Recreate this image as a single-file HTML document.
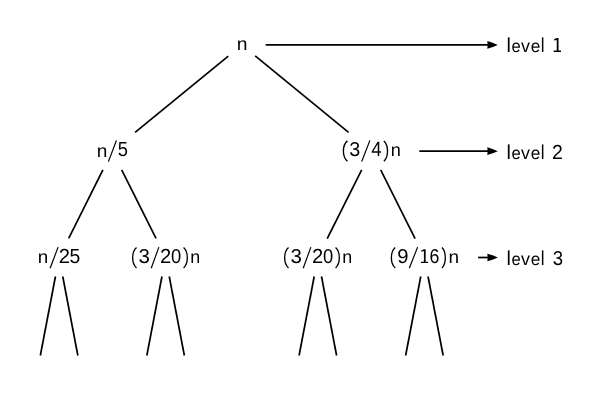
<!DOCTYPE html>
<html><head><meta charset="utf-8">
<style>
html,body{margin:0;padding:0;background:#fff;width:600px;height:416px;overflow:hidden;font-family:"Liberation Sans",sans-serif}
svg{display:block}
</style></head><body>
<svg width="600" height="416" viewBox="0 0 600 416">
<g stroke="#000" stroke-width="1.7" fill="none"><line x1="228.3" y1="56.1" x2="135.1" y2="132.4"/><line x1="255.2" y1="55.9" x2="348.6" y2="132.4"/><line x1="102.9" y1="169.8" x2="68.7" y2="238.3"/><line x1="121.7" y1="169.8" x2="156" y2="238.3"/><line x1="361.7" y1="169.8" x2="327.2" y2="238.6"/><line x1="380.7" y1="169.8" x2="415.1" y2="238.6"/><line x1="55.45" y1="276.5" x2="40.35" y2="355.5"/><line x1="62.75" y1="276.5" x2="77.85" y2="355.5"/><line x1="161.95" y1="276.5" x2="146.85" y2="355.5"/><line x1="169.25" y1="276.5" x2="184.35" y2="355.5"/><line x1="314.2" y1="276.5" x2="299.1" y2="355.5"/><line x1="321.5" y1="276.5" x2="336.6" y2="355.5"/><line x1="420.75" y1="276.5" x2="405.65" y2="355.5"/><line x1="428.05" y1="276.5" x2="443.15" y2="355.5"/><line x1="265.7" y1="44.9" x2="490" y2="44.9"/><line x1="419.3" y1="151.2" x2="490" y2="151.2"/><line x1="478.1" y1="257.5" x2="490" y2="257.5"/></g>
<g fill="#000"><path d="M497.8 44.9Q492.55 42.48 487.3 41.05Q487.9 44.9 487.3 48.75Q492.55 47.32 497.8 44.9Z"/><path d="M497.8 151.2Q492.55 148.77 487.3 147.35Q487.9 151.2 487.3 155.05Q492.55 153.62 497.8 151.2Z"/><path d="M497.9 257.5Q492.6 255.07 487.3 253.65Q487.9 257.5 487.3 261.35Q492.6 259.93 497.9 257.5Z"/></g>
<path fill="#000" d="M425.65 249.2V261.7H428.1V263.1H420.9V261.7H423.9V251.1L421.3 251.7V250.5L423.9 249.2ZM558.5 38V50.5H561V51.9H553.7V50.5H556.75V39.9L554.1 40.5V39.3L556.75 38Z"/>
<g font-family="Liberation Sans" font-size="20" fill="#000" opacity="0.999" text-rendering="geometricPrecision"><text transform="matrix(0.9651 0 0 0.9106 236.718 49.600)">n</text><text transform="matrix(0.9534 0 0 0.9106 96.634 156.500)">n</text><text transform="matrix(0.9175 0 0 1.0176 117.865 156.301)">5</text><text transform="matrix(0.9913 0 0 1.0028 349.345 156.204)">3</text><text transform="matrix(0.9327 0 0 1.0320 371.272 156.400)">4</text><text transform="matrix(0.9063 0 0 0.9106 390.696 156.400)">n</text><text transform="matrix(0.9416 0 0 0.9106 37.749 263.100)">n</text><text transform="matrix(1.0097 0 0 1.0168 58.784 263.100)">2</text><text transform="matrix(0.9702 0 0 1.0176 69.423 262.901)">5</text><text transform="matrix(1.0229 0 0 1.0028 138.421 262.904)">3</text><text transform="matrix(1.0097 0 0 1.0168 159.884 263.100)">2</text><text transform="matrix(0.9204 0 0 1.0028 170.881 262.904)">0</text><text transform="matrix(0.8945 0 0 0.9106 190.212 263.100)">n</text><text transform="matrix(1.0229 0 0 1.0028 290.421 262.904)">3</text><text transform="matrix(1.0097 0 0 1.0168 311.884 263.100)">2</text><text transform="matrix(0.9204 0 0 1.0028 322.881 262.904)">0</text><text transform="matrix(0.8945 0 0 0.9106 342.212 263.100)">n</text><text transform="matrix(1.0121 0 0 1.0028 397.301 262.904)">9</text><text transform="matrix(0.8886 0 0 1.0028 429.398 262.904)">6</text><text transform="matrix(0.9534 0 0 0.9106 448.434 263.100)">n</text><text transform="matrix(0.9956 0 0 1.0074 506.408 51.900)">l</text><text transform="matrix(0.8311 0 0 0.8853 511.394 51.927)">e</text><text transform="matrix(0.8973 0 0 0.9085 521.089 51.900)">v</text><text transform="matrix(0.8631 0 0 0.8853 530.767 51.927)">e</text><text transform="matrix(0.8533 0 0 1.0074 540.750 51.900)">l</text><text transform="matrix(0.9956 0 0 1.0074 506.408 158.500)">l</text><text transform="matrix(0.8311 0 0 0.8853 511.394 158.527)">e</text><text transform="matrix(0.8973 0 0 0.9085 521.089 158.500)">v</text><text transform="matrix(0.8631 0 0 0.8853 530.767 158.527)">e</text><text transform="matrix(0.8533 0 0 1.0074 540.750 158.500)">l</text><text transform="matrix(0.9768 0 0 1.0168 552.117 158.500)">2</text><text transform="matrix(0.9956 0 0 1.0074 506.408 264.800)">l</text><text transform="matrix(0.8311 0 0 0.8853 511.394 264.827)">e</text><text transform="matrix(0.8973 0 0 0.9085 521.089 264.800)">v</text><text transform="matrix(0.8631 0 0 0.8853 530.767 264.827)">e</text><text transform="matrix(0.8533 0 0 1.0074 540.750 264.800)">l</text><text transform="matrix(0.9280 0 0 1.0028 552.693 264.604)">3</text></g>
<g stroke="#000" stroke-width="1.2" fill="none"><line x1="108.4" y1="161.6" x2="116.4" y2="140.5"/><line x1="361.7" y1="161.5" x2="369.9" y2="140.4"/><line x1="50.1" y1="268.2" x2="58.1" y2="247.1"/><line x1="151.2" y1="268.2" x2="158.9" y2="247.1"/><line x1="303.2" y1="268.2" x2="310.9" y2="247.1"/><line x1="409.3" y1="268.2" x2="417.6" y2="247.1"/></g>
<path stroke="#000" stroke-width="1.35" fill="none" d="M347.43 140.88C342.03 145.35 342.03 156.75 347.43 161.22M383.88 140.88C388.74 145.35 388.74 156.75 383.88 161.22M136.52 247.58C131.39 252.05 131.39 263.45 136.52 267.93M183.58 247.58C188.57 252.05 188.57 263.45 183.58 267.93M288.52 247.58C283.39 252.05 283.39 263.45 288.52 267.93M335.57 247.58C340.57 252.05 340.57 263.45 335.57 267.93M395.22 247.58C390.09 252.05 390.09 263.45 395.22 267.93M441.98 247.58C446.44 252.05 446.44 263.45 441.98 267.93"/>
</svg>
</body></html>
